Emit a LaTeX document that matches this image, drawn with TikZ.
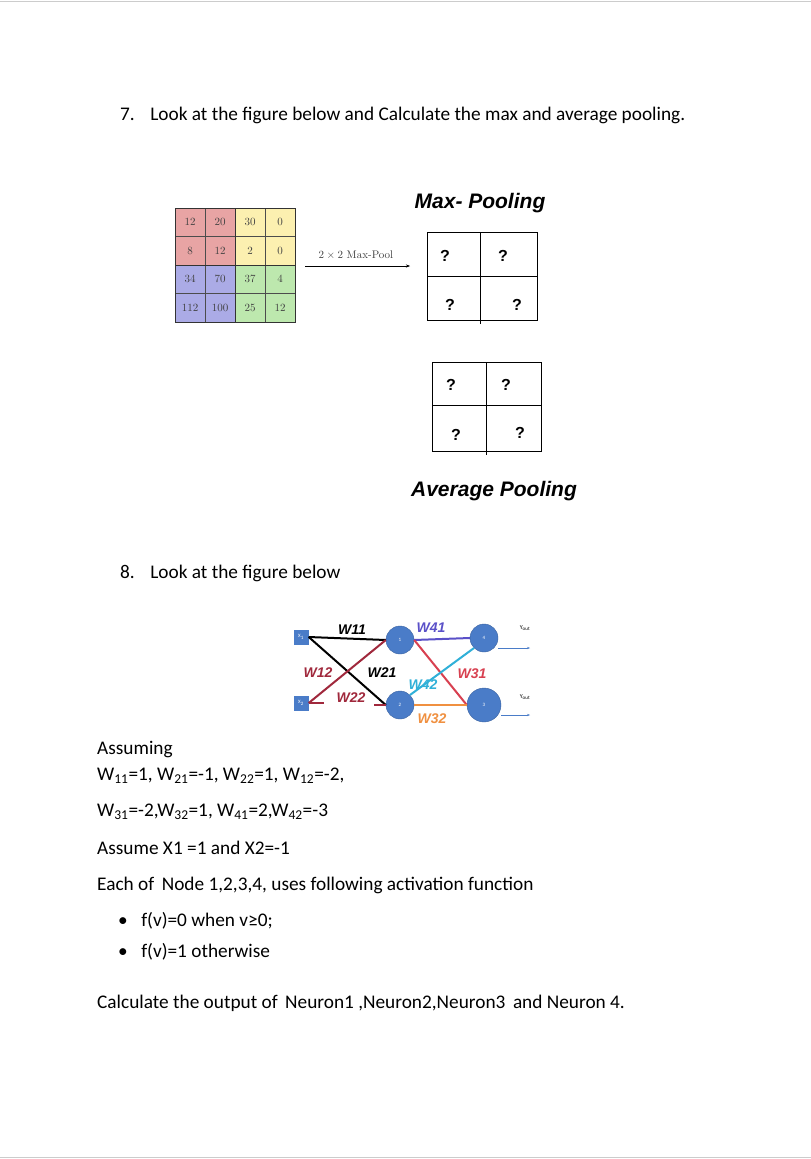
\documentclass[tikz,border=0pt]{standalone}
\usepackage{fontspec}
\setmainfont{Carlito}
\newfontfamily\hv{Liberation Sans}
\newfontfamily\lmr{Latin Modern Roman}
\usetikzlibrary{arrows.meta}
\definecolor{cr}{HTML}{E8A4A4}\definecolor{cy}{HTML}{FCF0B0}
\definecolor{cb}{HTML}{ABABE6}\definecolor{cg}{HTML}{BDE8AE}
\definecolor{nb}{HTML}{4A7CC8}\definecolor{wr}{HTML}{A0283C}
\definecolor{wp}{HTML}{5A50C8}\definecolor{wc}{HTML}{30B0D8}
\definecolor{wo}{HTML}{F09040}\definecolor{wrr}{HTML}{D84050}
\begin{document}
\begin{tikzpicture}[x=1pt,y=-1pt,
 body/.style={anchor=west,font=\fontsize{19.3}{21}\selectfont,inner sep=0},
 cellt/.style={font=\lmr\fontsize{11}{12}\selectfont,text=black!75},
 q/.style={font=\hv\bfseries\fontsize{16}{17}\selectfont},
 ttl/.style={font=\hv\bfseries\itshape\fontsize{21}{22}\selectfont},
 wl/.style={font=\hv\bfseries\itshape\fontsize{14}{15}\selectfont,inner sep=0},
 neuron/.style={circle,fill=nb,draw=nb!80!black,inner sep=0,minimum size=#1},
 inp/.style={rectangle,fill=nb,inner sep=0,minimum size=15,font=\tiny,text=white},
 yl/.style={font=\fontsize{6}{7}\selectfont},
 wire/.style={line width=2}]
\useasboundingbox (0,0) rectangle (811,1159);
\fill[white] (0,0) rectangle (811,1159);
\draw[gray!40] (0,1) -- (811,1) (0,1157)--(811,1157);
\node[body] (t7) at (120,115) {7.\hspace{0.5em} Look at the figure below and Calculate the max and average pooling.};
% grid
\foreach \r/\vals in {0/{12,20,30,0},1/{8,12,2,0},2/{34,70,37,4},3/{112,100,25,12}}{
 \foreach \v [count=\c from 0] in \vals {
  \pgfmathsetmacro\col{\r<2 ? (\c<2 ? 1 : 2) : (\c<2 ? 3 : 4)}
  \ifcase\numexpr\col\relax\or\def\cc{cr}\or\def\cc{cy}\or\def\cc{cb}\or\def\cc{cg}\fi
  \node[draw=black!70,fill=\cc,minimum width=30,minimum height=28.5,inner sep=0,cellt] (g\r\c) at (190+30*\c,222.25+28.5*\r) {\v};
 }}
\draw[black!80,line width=0.6] (175,208) rectangle (295,322) (235,208)--(235,322) (175,265)--(295,265);
\coordinate (ae) at (410,266);
\draw[-{Stealth[length=4pt]}] (g13.east |- ae) ++(10,0) coordinate (as) -- (ae);
\node[cellt,anchor=south] (al) at (356,263) {$2\times2$ Max-Pool};
\node[ttl] (mt) at (480,203) {Max- Pooling};
\draw (427,232) rectangle (537,320) (480,232)--(480,324) (427,276)--(537,276);
\node[q] at (445,256) {?}; \node[q] at (503,256) {?};
\node[q] at (450,305) {?}; \node[q] at (517,305) {?};
\draw (432,362) rectangle (541,451) (486,362)--(486,455) (432,405)--(541,405);
\node[q] at (451,385) {?}; \node[q] at (506,385) {?};
\node[q] at (456,435) {?}; \node[q] at (520,433) {?};
\node[ttl] (at) at (494,491) {Average Pooling};
\node[body] (t8) at (120,573) {8.\hspace{0.5em} Look at the figure below};
% network
\node[inp] (x1) at (301,637) {X\textsubscript1};
\node[inp] (x2) at (301,703) {X\textsubscript2};
\node[neuron=28] (n1) at (400,640) {};
\node[neuron=28] (n2) at (400,705) {};
\node[neuron=28] (n4) at (484,638) {};
\node[neuron=34] (n3) at (484,705) {};
\node[font=\tiny,text=white] at (n1) {1};\node[font=\tiny,text=white] at (n2) {2};
\node[font=\tiny,text=white] at (n3) {3};\node[font=\tiny,text=white] at (n4) {4};
\draw[wire] (x1.east) -- (n1.west);
\draw[wire] (x1.east) -- (n2.west);
\draw[wr,wire] (x2.east) -- (n1.west);
\draw[wr,wire] (x2.east) -- ++(15,0);
\draw[wr,wire] (n2.west) -- ++(-12,0);
\draw[wp,wire] (n1.east) -- (n4.west);
\draw[wrr,wire] (n1.east) -- (n3.west);
\draw[wc,wire] (n2.north east) -- (n4.south west);
\draw[wo,wire] (n2.east) -- (n3.west);
\coordinate (y4) at (530,648); \coordinate (y3) at (530,715);
\draw[nb,-{Stealth[length=3pt]}] (n4.east |- y4) -- (y4);
\draw[nb,-{Stealth[length=3pt]}] (n3.east |- y3) -- (y3);
\node[yl] at (525,628) {Y\textsubscript{out}};
\node[yl] at (525,697) {Y\textsubscript{out}};
\node[wl] at (352,630) {W11};
\node[wl,text=wr] at (318,673) {W12};
\node[wl] at (382,673) {W21};
\node[wl,text=wr] at (351,698) {W22};
\node[wl,text=wp] at (431,628) {W41};
\node[wl,text=wc] at (423,685) {W42};
\node[wl,text=wrr] at (472,674) {W31};
\node[wl,text=wo] at (432,719) {W32};
% text
\node[body] (a1) at (97,750) {Assuming};
\node[body] (a2) at (97,776) {W\textsubscript{11}=1, W\textsubscript{21}=-1, W\textsubscript{22}=1, W\textsubscript{12}=-2,};
\node[body] (a3) at (97,812) {W\textsubscript{31}=-2,W\textsubscript{32}=1, W\textsubscript{41}=2,W\textsubscript{42}=-3};
\node[body] (a4) at (97,848) {Assume X1 =1 and X2=-1};
\node[body] (a5) at (97,885) {Each of\, Node 1,2,3,4, uses following activation function};
\node[body] (b1) at (118,921) {\textbullet\hspace{0.7em}f(v)=0 when v≥0;};
\node[body] (b2) at (118,952) {\textbullet\hspace{0.7em}f(v)=1 otherwise};
\node[body] (c1) at (97,1003) {Calculate the output of\, Neuron1 ,Neuron2,Neuron3\, and Neuron 4.};
\end{tikzpicture}
\end{document}
